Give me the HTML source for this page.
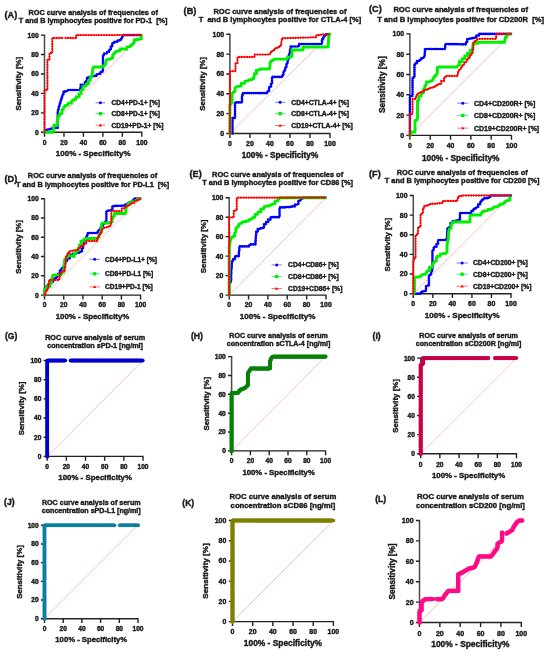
<!DOCTYPE html>
<html><head><meta charset="utf-8"><style>
html,body{margin:0;padding:0;background:#fff;width:550px;height:656px;overflow:hidden}
svg{display:block;filter:blur(0.3px)}
.b{font-family:"Liberation Sans",sans-serif;font-weight:bold;fill:#1a1a1a;stroke:#1a1a1a;stroke-width:0.4px}
</style></head><body><svg width="550" height="656" viewBox="0 0 550 656"><g><text x="4.5" y="18" font-size="9.2" class="b">(A)</text><text x="93.15" y="14.7" font-size="7.3" class="b" text-anchor="middle" xml:space="preserve">ROC curve analysis of frequencies of</text><text x="93.15" y="22.9" font-size="7.3" class="b" text-anchor="middle" xml:space="preserve">T and B lymphocytes positive for PD-1  [%]</text><line x1="44.5" y1="132.3" x2="141.8" y2="35.1" stroke="#f6adb9" stroke-width="0.8"/><path d="M44.5 34.5V132.3" stroke="#4a4a4a" stroke-width="1.5" fill="none"/><path d="M43.8 132.3H142.4M40.9 132.3H44.5M44.5 132.3V136.7M40.9 112.86H44.5M63.96 132.3V136.7M40.9 93.42H44.5M83.42 132.3V136.7M40.9 73.98H44.5M102.88 132.3V136.7M40.9 54.54H44.5M122.34 132.3V136.7M40.9 35.1H44.5M141.8 132.3V136.7" stroke="#222" stroke-width="1.4" fill="none"/><text x="38.7" y="134.7" font-size="6.7" class="b" text-anchor="end">0</text><text x="44.5" y="144.6" font-size="6.7" class="b" text-anchor="middle">0</text><text x="38.7" y="115.26" font-size="6.7" class="b" text-anchor="end">20</text><text x="63.96" y="144.6" font-size="6.7" class="b" text-anchor="middle">20</text><text x="38.7" y="95.82" font-size="6.7" class="b" text-anchor="end">40</text><text x="83.42" y="144.6" font-size="6.7" class="b" text-anchor="middle">40</text><text x="38.7" y="76.38" font-size="6.7" class="b" text-anchor="end">60</text><text x="102.88" y="144.6" font-size="6.7" class="b" text-anchor="middle">60</text><text x="38.7" y="56.94" font-size="6.7" class="b" text-anchor="end">80</text><text x="122.34" y="144.6" font-size="6.7" class="b" text-anchor="middle">80</text><text x="38.7" y="37.5" font-size="6.7" class="b" text-anchor="end">100</text><text x="141.8" y="144.6" font-size="6.7" class="b" text-anchor="middle">100</text><text x="93.15" y="156.1" font-size="8.0" class="b" text-anchor="middle">100% - Specificity%</text><text transform="translate(21.4 83.7) rotate(-90)" font-size="7.85" class="b" text-anchor="middle">Sensitivity [%]</text><polyline points="44.5,132.3 46.49,132.3 46.49,129.48 48.49,129.48 50.07,129.48 50.07,128.66 53.23,128.66 53.23,127.83 54.81,127.83 57.73,127.83 57.73,111.89 58.05,111.89 58.05,109.46 58.68,109.46 58.68,107.03 59,107.03 59.5,107.03 59.5,103.69 60.51,103.69 60.51,100.35 61.51,100.35 61.51,97.02 62.01,97.02 62.5,97.02 62.5,94.49 63.47,94.49 63.47,91.96 63.96,91.96 65.22,91.96 65.22,90.99 67.75,90.99 67.75,90.02 69.02,90.02 80.01,90.02 80.26,90.02 80.26,87.49 80.74,87.49 80.74,84.96 80.99,84.96 84,84.96 85,84.96 85,81.46 87,81.46 87,77.97 87.99,77.97 88.48,77.97 88.48,76.9 88.97,76.9 90.47,76.9 90.47,76.41 93.49,76.41 93.49,75.92 95,75.92 96.75,75.92 96.75,73.98 100.25,73.98 100.25,72.04 102,72.04 102.49,72.04 102.49,69.99 102.98,69.99 102.98,55.03 104.24,55.03 104.24,53.52 106.77,53.52 106.77,52.01 108.04,52.01 109.01,52.01 109.01,49.97 109.98,49.97 110.74,49.97 110.74,46.47 112.25,46.47 112.25,42.97 113,42.97 114.33,42.97 114.33,41.81 116.99,41.81 116.99,40.64 119.65,40.64 119.65,39.47 120.98,39.47 121.46,39.47 121.46,38.02 121.95,38.02 122.49,38.02 122.49,35.1 123.02,35.1 141.8,35.1" fill="none" stroke="#0000ff" stroke-width="1.2" stroke-linejoin="round"/><polyline points="44.5,132.3 46.49,132.3 46.49,129.48 48.49,129.48 50.07,129.48 50.07,128.66 53.23,128.66 53.23,127.83 54.81,127.83 57.73,127.83 57.73,111.89 58.05,111.89 58.05,109.46 58.68,109.46 58.68,107.03 59,107.03 59.5,107.03 59.5,103.69 60.51,103.69 60.51,100.35 61.51,100.35 61.51,97.02 62.01,97.02 62.5,97.02 62.5,94.49 63.47,94.49 63.47,91.96 63.96,91.96 65.22,91.96 65.22,90.99 67.75,90.99 67.75,90.02 69.02,90.02 80.01,90.02 80.26,90.02 80.26,87.49 80.74,87.49 80.74,84.96 80.99,84.96 84,84.96 85,84.96 85,81.46 87,81.46 87,77.97 87.99,77.97 88.48,77.97 88.48,76.9 88.97,76.9 90.47,76.9 90.47,76.41 93.49,76.41 93.49,75.92 95,75.92 96.75,75.92 96.75,73.98 100.25,73.98 100.25,72.04 102,72.04 102.49,72.04 102.49,69.99 102.98,69.99 102.98,55.03 104.24,55.03 104.24,53.52 106.77,53.52 106.77,52.01 108.04,52.01 109.01,52.01 109.01,49.97 109.98,49.97 110.74,49.97 110.74,46.47 112.25,46.47 112.25,42.97 113,42.97 114.33,42.97 114.33,41.81 116.99,41.81 116.99,40.64 119.65,40.64 119.65,39.47 120.98,39.47 121.46,39.47 121.46,38.02 121.95,38.02 122.49,38.02 122.49,35.1 123.02,35.1 141.8,35.1" fill="none" stroke="#0000ff" stroke-width="2.7" stroke-linecap="round" stroke-dasharray="0 2.2"/><polyline points="44.5,132.3 53.65,132.3 53.65,125.3 57.64,125.3 57.64,115.97 59.34,115.97 59.34,114.03 61.04,114.03 61.77,114.03 61.77,110.53 63.23,110.53 63.23,107.03 63.96,107.03 65.47,107.03 65.47,105.04 68.48,105.04 68.48,103.04 69.99,103.04 71.23,103.04 71.23,101 73.71,101 73.71,98.96 74.95,98.96 75.98,98.96 75.98,97.02 77,97.02 78.99,97.02 78.99,94 80.99,94 80.99,90.02 82.98,90.02 82.98,86.03 84.98,86.03 86.48,86.03 86.48,83.99 87.99,83.99 88.48,83.99 88.48,80.01 88.97,80.01 90.47,80.01 90.47,76.99 91.98,76.99 92.14,76.99 92.14,73.66 92.47,73.66 92.47,70.32 92.79,70.32 92.79,66.98 92.96,66.98 102.98,66.98 104,66.98 104,65.04 105.02,65.04 105.29,65.04 105.29,62.51 105.82,62.51 105.82,59.98 106.09,59.98 107.72,59.98 107.72,59.21 110.98,59.21 110.98,58.43 112.61,58.43 112.61,55.03 113.1,55.03 113.1,53.57 113.58,53.57 114.82,53.57 114.82,52.05 117.28,52.05 117.28,50.52 119.75,50.52 119.75,49 120.98,49 124.97,49 126.57,49 126.57,46.96 128.18,46.96 129.64,46.96 129.64,45.4 132.56,45.4 132.56,43.85 134.02,43.85 134.02,39.96 135.72,39.96 135.72,39.47 139.12,39.47 139.12,38.99 140.83,38.99 141.31,38.99 141.31,35.1 141.8,35.1" fill="none" stroke="#00ee00" stroke-width="1.2" stroke-linejoin="round"/><polyline points="44.5,132.3 53.65,132.3 53.65,125.3 57.64,125.3 57.64,115.97 59.34,115.97 59.34,114.03 61.04,114.03 61.77,114.03 61.77,110.53 63.23,110.53 63.23,107.03 63.96,107.03 65.47,107.03 65.47,105.04 68.48,105.04 68.48,103.04 69.99,103.04 71.23,103.04 71.23,101 73.71,101 73.71,98.96 74.95,98.96 75.98,98.96 75.98,97.02 77,97.02 78.99,97.02 78.99,94 80.99,94 80.99,90.02 82.98,90.02 82.98,86.03 84.98,86.03 86.48,86.03 86.48,83.99 87.99,83.99 88.48,83.99 88.48,80.01 88.97,80.01 90.47,80.01 90.47,76.99 91.98,76.99 92.14,76.99 92.14,73.66 92.47,73.66 92.47,70.32 92.79,70.32 92.79,66.98 92.96,66.98 102.98,66.98 104,66.98 104,65.04 105.02,65.04 105.29,65.04 105.29,62.51 105.82,62.51 105.82,59.98 106.09,59.98 107.72,59.98 107.72,59.21 110.98,59.21 110.98,58.43 112.61,58.43 112.61,55.03 113.1,55.03 113.1,53.57 113.58,53.57 114.82,53.57 114.82,52.05 117.28,52.05 117.28,50.52 119.75,50.52 119.75,49 120.98,49 124.97,49 126.57,49 126.57,46.96 128.18,46.96 129.64,46.96 129.64,45.4 132.56,45.4 132.56,43.85 134.02,43.85 134.02,39.96 135.72,39.96 135.72,39.47 139.12,39.47 139.12,38.99 140.83,38.99 141.31,38.99 141.31,35.1 141.8,35.1" fill="none" stroke="#00ee00" stroke-width="2.9" stroke-linecap="square" stroke-dasharray="0 2.8"/><polyline points="44.5,132.3 44.5,90.02 47.42,90.02 47.42,59.98 49.46,59.98 49.46,52.98 52.28,52.98 52.28,38.02 63.47,38.02" fill="none" stroke="#ff0000" stroke-width="0.9" stroke-linejoin="round"/><polyline points="44.5,132.3 44.5,90.02 47.42,90.02 47.42,59.98 49.46,59.98 49.46,52.98 52.28,52.98 52.28,38.02 63.47,38.02" fill="none" stroke="#ff0000" stroke-width="2.3" stroke-linecap="round" stroke-dasharray="0 2.6"/><polyline points="65.52,38.02 76.22,38.02 76.22,35.1 141.8,35.1" fill="none" stroke="#ff0000" stroke-width="0.9" stroke-linejoin="round"/><polyline points="65.52,38.02 76.22,38.02 76.22,35.1 141.8,35.1" fill="none" stroke="#ff0000" stroke-width="2.3" stroke-linecap="round" stroke-dasharray="0 2.6"/><line x1="95.5" y1="102.8" x2="105.3" y2="102.8" stroke="#6a6aff" stroke-width="0.9"/><circle cx="100.4" cy="102.8" r="1.5" fill="#0000ff"/><text x="111.5" y="105.25" font-size="6.65" class="b">CD4+PD-1+ [%]</text><line x1="95.5" y1="113.6" x2="105.3" y2="113.6" stroke="#40e0a0" stroke-width="0.9"/><rect x="98.7" y="111.9" width="3.4" height="3.4" fill="#00ee00"/><text x="111.5" y="116.05" font-size="6.65" class="b">CD8+PD-1+ [%]</text><line x1="95.5" y1="125.2" x2="105.3" y2="125.2" stroke="#ff6060" stroke-width="0.9"/><path d="M100.4 123.6L102 126.4L98.8 126.4Z" fill="#ff0000"/><text x="111.5" y="127.65" font-size="6.65" class="b">CD19+PD-1+ [%]</text></g><g><text x="183.6" y="14" font-size="9.2" class="b">(B)</text><text x="279.95" y="13.6" font-size="7.5" class="b" text-anchor="middle" xml:space="preserve">ROC curve analysis of frequencies of</text><text x="279.95" y="21.8" font-size="7.5" class="b" text-anchor="middle" xml:space="preserve">T  and B lymphocytes positive for CTLA-4 [%]</text><line x1="229.9" y1="133.5" x2="330" y2="34.3" stroke="#f6adb9" stroke-width="0.8"/><path d="M229.9 33.7V133.5" stroke="#4a4a4a" stroke-width="1.5" fill="none"/><path d="M229.2 133.5H330.6M226.3 133.5H229.9M229.9 133.5V137.9M226.3 113.66H229.9M249.92 133.5V137.9M226.3 93.82H229.9M269.94 133.5V137.9M226.3 73.98H229.9M289.96 133.5V137.9M226.3 54.14H229.9M309.98 133.5V137.9M226.3 34.3H229.9M330 133.5V137.9" stroke="#222" stroke-width="1.4" fill="none"/><text x="224.1" y="135.9" font-size="6.9" class="b" text-anchor="end">0</text><text x="229.9" y="146.1" font-size="6.9" class="b" text-anchor="middle">0</text><text x="224.1" y="116.06" font-size="6.9" class="b" text-anchor="end">20</text><text x="249.92" y="146.1" font-size="6.9" class="b" text-anchor="middle">20</text><text x="224.1" y="96.22" font-size="6.9" class="b" text-anchor="end">40</text><text x="269.94" y="146.1" font-size="6.9" class="b" text-anchor="middle">40</text><text x="224.1" y="76.38" font-size="6.9" class="b" text-anchor="end">60</text><text x="289.96" y="146.1" font-size="6.9" class="b" text-anchor="middle">60</text><text x="224.1" y="56.54" font-size="6.9" class="b" text-anchor="end">80</text><text x="309.98" y="146.1" font-size="6.9" class="b" text-anchor="middle">80</text><text x="224.1" y="36.7" font-size="6.9" class="b" text-anchor="end">100</text><text x="330" y="146.1" font-size="6.9" class="b" text-anchor="middle">100</text><text x="279.95" y="158.2" font-size="8.2" class="b" text-anchor="middle">100% - Specificity%</text><text transform="translate(205.3 83.9) rotate(-90)" font-size="7.85" class="b" text-anchor="middle">Sensitivity [%]</text><polyline points="232.5,133.5 232.5,118.02 235.01,118.02 235.01,102.45 242.01,102.45 242.01,95.01 243.01,95.01 243.01,93.03 244.01,93.03 267.04,93.03 267.54,93.03 267.54,91.04 268.04,91.04 269.04,91.04 269.04,86.98 270.04,86.98 271.04,86.98 271.04,84 272.04,84 272.04,76.96 281.95,76.96 282.45,76.96 282.45,74.48 283.45,74.48 283.45,72 283.95,72 284.45,72 284.45,69.52 285.46,69.52 285.46,67.04 285.96,67.04 286.46,67.04 286.46,64.06 287.46,64.06 287.46,61.08 287.96,61.08 288.26,61.08 288.26,58.17 288.86,58.17 288.86,55.25 289.46,55.25 289.46,52.33 290.06,52.33 290.06,49.42 290.66,49.42 290.66,46.5 290.96,46.5 298.97,46.5 298.97,44.02 321.99,44.02 321.99,38.96 323.49,38.96 323.49,35.99 325,35.99 325.5,35.99 325.5,34.3 326,34.3 330,34.3" fill="none" stroke="#0000ff" stroke-width="1.2" stroke-linejoin="round"/><polyline points="232.5,133.5 232.5,118.02 235.01,118.02 235.01,102.45 242.01,102.45 242.01,95.01 243.01,95.01 243.01,93.03 244.01,93.03 267.04,93.03 267.54,93.03 267.54,91.04 268.04,91.04 269.04,91.04 269.04,86.98 270.04,86.98 271.04,86.98 271.04,84 272.04,84 272.04,76.96 281.95,76.96 282.45,76.96 282.45,74.48 283.45,74.48 283.45,72 283.95,72 284.45,72 284.45,69.52 285.46,69.52 285.46,67.04 285.96,67.04 286.46,67.04 286.46,64.06 287.46,64.06 287.46,61.08 287.96,61.08 288.26,61.08 288.26,58.17 288.86,58.17 288.86,55.25 289.46,55.25 289.46,52.33 290.06,52.33 290.06,49.42 290.66,49.42 290.66,46.5 290.96,46.5 298.97,46.5 298.97,44.02 321.99,44.02 321.99,38.96 323.49,38.96 323.49,35.99 325,35.99 325.5,35.99 325.5,34.3 326,34.3 330,34.3" fill="none" stroke="#0000ff" stroke-width="2.7" stroke-linecap="round" stroke-dasharray="0 2.2"/><polyline points="229.9,133.5 229.9,103.74 232,103.74 232,93.03 233.5,93.03 233.5,92.03 235.01,92.03 235.01,86.98 237.01,86.98 237.01,86.38 239.01,86.38 241.01,86.38 241.01,83.4 243.01,83.4 245.02,83.4 245.02,80.92 247.02,80.92 248.49,80.92 248.49,79.93 251.45,79.93 251.45,78.94 252.92,78.94 253.42,78.94 253.42,76.46 254.42,76.46 254.42,73.98 254.93,73.98 256.43,73.98 256.43,70.01 257.93,70.01 258.93,70.01 258.93,69.02 259.93,69.02 269.94,69.02 269.94,62.08 271.19,62.08 271.19,60.59 273.69,60.59 273.69,59.1 274.94,59.1 286.96,59.1 286.96,57.12 291.96,57.12 291.96,49.97 302.97,49.97 302.97,47 328,47 328.12,47 328.12,44.32 328.37,44.32 328.37,41.64 328.62,41.64 328.62,38.96 328.87,38.96 328.87,36.28 329,36.28 329.5,36.28 329.5,34.3 330,34.3" fill="none" stroke="#00ee00" stroke-width="1.2" stroke-linejoin="round"/><polyline points="229.9,133.5 229.9,103.74 232,103.74 232,93.03 233.5,93.03 233.5,92.03 235.01,92.03 235.01,86.98 237.01,86.98 237.01,86.38 239.01,86.38 241.01,86.38 241.01,83.4 243.01,83.4 245.02,83.4 245.02,80.92 247.02,80.92 248.49,80.92 248.49,79.93 251.45,79.93 251.45,78.94 252.92,78.94 253.42,78.94 253.42,76.46 254.42,76.46 254.42,73.98 254.93,73.98 256.43,73.98 256.43,70.01 257.93,70.01 258.93,70.01 258.93,69.02 259.93,69.02 269.94,69.02 269.94,62.08 271.19,62.08 271.19,60.59 273.69,60.59 273.69,59.1 274.94,59.1 286.96,59.1 286.96,57.12 291.96,57.12 291.96,49.97 302.97,49.97 302.97,47 328,47 328.12,47 328.12,44.32 328.37,44.32 328.37,41.64 328.62,41.64 328.62,38.96 328.87,38.96 328.87,36.28 329,36.28 329.5,36.28 329.5,34.3 330,34.3" fill="none" stroke="#00ee00" stroke-width="2.9" stroke-linecap="square" stroke-dasharray="0 2.8"/><polyline points="229.9,133.5 229.9,71.2 235.51,71.2 235.51,63.07 237.51,63.07 237.51,57.02 254.52,57.02 254.52,54.54 269.94,54.54 269.94,53.05 270.94,53.05 270.94,51.16 271.94,51.16 272.94,51.16 272.94,50.17 273.94,50.17 274.94,50.17 274.94,48.19 275.95,48.19 276.95,48.19 276.95,47.2 277.95,47.2 279.45,47.2 279.45,46.01 280.95,46.01 281.12,46.01 281.12,43.43 281.45,43.43 281.45,40.85 281.79,40.85 281.79,38.27 281.95,38.27 283.5,38.27 283.5,38.18 286.59,38.18 286.59,38.09 289.69,38.09 289.69,38 292.78,38 292.78,37.91 295.88,37.91 295.88,37.82 298.97,37.82 298.97,37.73 302.06,37.73 302.06,37.64 305.16,37.64 305.16,37.55 308.25,37.55 308.25,37.46 311.35,37.46 311.35,37.37 314.44,37.37 314.44,37.28 315.99,37.28 316.49,37.28 316.49,35.29 316.99,35.29 318.74,35.29 318.74,34.8 322.24,34.8 322.24,34.3 323.99,34.3 330,34.3" fill="none" stroke="#ff0000" stroke-width="0.9" stroke-linejoin="round"/><polyline points="229.9,133.5 229.9,71.2 235.51,71.2 235.51,63.07 237.51,63.07 237.51,57.02 254.52,57.02 254.52,54.54 269.94,54.54 269.94,53.05 270.94,53.05 270.94,51.16 271.94,51.16 272.94,51.16 272.94,50.17 273.94,50.17 274.94,50.17 274.94,48.19 275.95,48.19 276.95,48.19 276.95,47.2 277.95,47.2 279.45,47.2 279.45,46.01 280.95,46.01 281.12,46.01 281.12,43.43 281.45,43.43 281.45,40.85 281.79,40.85 281.79,38.27 281.95,38.27 283.5,38.27 283.5,38.18 286.59,38.18 286.59,38.09 289.69,38.09 289.69,38 292.78,38 292.78,37.91 295.88,37.91 295.88,37.82 298.97,37.82 298.97,37.73 302.06,37.73 302.06,37.64 305.16,37.64 305.16,37.55 308.25,37.55 308.25,37.46 311.35,37.46 311.35,37.37 314.44,37.37 314.44,37.28 315.99,37.28 316.49,37.28 316.49,35.29 316.99,35.29 318.74,35.29 318.74,34.8 322.24,34.8 322.24,34.3 323.99,34.3 330,34.3" fill="none" stroke="#ff0000" stroke-width="2.3" stroke-linecap="round" stroke-dasharray="0 2.6"/><line x1="275" y1="102.3" x2="285.3" y2="102.3" stroke="#6a6aff" stroke-width="0.9"/><circle cx="280.15" cy="102.3" r="1.5" fill="#0000ff"/><text x="291.3" y="104.75" font-size="6.75" class="b">CD4+CTLA-4+ [%]</text><line x1="275" y1="113.6" x2="285.3" y2="113.6" stroke="#40e0a0" stroke-width="0.9"/><rect x="278.45" y="111.9" width="3.4" height="3.4" fill="#00ee00"/><text x="291.3" y="116.05" font-size="6.75" class="b">CD8+CTLA-4+ [%]</text><line x1="275" y1="125.5" x2="285.3" y2="125.5" stroke="#ff6060" stroke-width="0.9"/><path d="M280.15 123.9L281.75 126.7L278.55 126.7Z" fill="#ff0000"/><text x="291.3" y="127.95" font-size="6.75" class="b">CD19+CTLA-4+ [%]</text></g><g><text x="369" y="11.6" font-size="9.2" class="b">(C)</text><text x="460.7" y="12.4" font-size="7.6" class="b" text-anchor="middle" xml:space="preserve">ROC curve analysis of frequencies of</text><text x="460.7" y="21.5" font-size="7.6" class="b" text-anchor="middle" xml:space="preserve">T and B lymphocytes positive for CD200R  [%]</text><line x1="409.9" y1="135.4" x2="511.5" y2="33.9" stroke="#f6adb9" stroke-width="0.8"/><path d="M409.9 33.3V135.4" stroke="#4a4a4a" stroke-width="1.5" fill="none"/><path d="M409.2 135.4H512.1M406.3 135.4H409.9M409.9 135.4V139.8M406.3 115.1H409.9M430.22 135.4V139.8M406.3 94.8H409.9M450.54 135.4V139.8M406.3 74.5H409.9M470.86 135.4V139.8M406.3 54.2H409.9M491.18 135.4V139.8M406.3 33.9H409.9M511.5 135.4V139.8" stroke="#222" stroke-width="1.4" fill="none"/><text x="404.1" y="137.8" font-size="6.9" class="b" text-anchor="end">0</text><text x="409.9" y="148.3" font-size="6.9" class="b" text-anchor="middle">0</text><text x="404.1" y="117.5" font-size="6.9" class="b" text-anchor="end">20</text><text x="430.22" y="148.3" font-size="6.9" class="b" text-anchor="middle">20</text><text x="404.1" y="97.2" font-size="6.9" class="b" text-anchor="end">40</text><text x="450.54" y="148.3" font-size="6.9" class="b" text-anchor="middle">40</text><text x="404.1" y="76.9" font-size="6.9" class="b" text-anchor="end">60</text><text x="470.86" y="148.3" font-size="6.9" class="b" text-anchor="middle">60</text><text x="404.1" y="56.6" font-size="6.9" class="b" text-anchor="end">80</text><text x="491.18" y="148.3" font-size="6.9" class="b" text-anchor="middle">80</text><text x="404.1" y="36.3" font-size="6.9" class="b" text-anchor="end">100</text><text x="511.5" y="148.3" font-size="6.9" class="b" text-anchor="middle">100</text><text x="460.7" y="160.7" font-size="8.3" class="b" text-anchor="middle">100% - Specificity%</text><text transform="translate(385.2 84.65) rotate(-90)" font-size="8.3" class="b" text-anchor="middle">Sensitivity [%]</text><polyline points="409.9,135.4 409.9,96.02 412.54,96.02 412.54,77.95 413.51,77.95 413.51,77.04 414.47,77.04 414.47,64.96 415.23,64.96 415.23,63.03 416,63.03 417.01,63.03 417.01,61 418.03,61 419.04,61 419.04,59.99 420.06,59.99 421.08,59.99 421.08,58.06 422.09,58.06 423.31,58.06 423.31,57.04 424.53,57.04 424.62,57.04 424.62,54.37 424.78,54.37 424.78,51.7 424.95,51.7 424.95,49.02 425.04,49.02 445.16,49.02 445.16,44.05 446.61,44.05 446.61,44.09 449.53,44.09 449.53,44.14 452.45,44.14 452.45,44.18 455.37,44.18 455.37,44.22 458.28,44.22 458.28,44.27 461.2,44.27 461.2,44.31 464.12,44.31 464.12,44.35 465.58,44.35 466.14,44.35 466.14,41.61 467.25,41.61 467.25,38.87 467.81,38.87 469.1,38.87 469.1,38.5 471.67,38.5 471.67,38.13 474.25,38.13 474.25,37.76 475.53,37.76 476.04,37.76 476.04,35.63 476.55,35.63 478.73,35.63 478.73,33.9 480.92,33.9 511.5,33.9" fill="none" stroke="#0000ff" stroke-width="1.2" stroke-linejoin="round"/><polyline points="409.9,135.4 409.9,96.02 412.54,96.02 412.54,77.95 413.51,77.95 413.51,77.04 414.47,77.04 414.47,64.96 415.23,64.96 415.23,63.03 416,63.03 417.01,63.03 417.01,61 418.03,61 419.04,61 419.04,59.99 420.06,59.99 421.08,59.99 421.08,58.06 422.09,58.06 423.31,58.06 423.31,57.04 424.53,57.04 424.62,57.04 424.62,54.37 424.78,54.37 424.78,51.7 424.95,51.7 424.95,49.02 425.04,49.02 445.16,49.02 445.16,44.05 446.61,44.05 446.61,44.09 449.53,44.09 449.53,44.14 452.45,44.14 452.45,44.18 455.37,44.18 455.37,44.22 458.28,44.22 458.28,44.27 461.2,44.27 461.2,44.31 464.12,44.31 464.12,44.35 465.58,44.35 466.14,44.35 466.14,41.61 467.25,41.61 467.25,38.87 467.81,38.87 469.1,38.87 469.1,38.5 471.67,38.5 471.67,38.13 474.25,38.13 474.25,37.76 475.53,37.76 476.04,37.76 476.04,35.63 476.55,35.63 478.73,35.63 478.73,33.9 480.92,33.9 511.5,33.9" fill="none" stroke="#0000ff" stroke-width="2.7" stroke-linecap="round" stroke-dasharray="0 2.2"/><polyline points="409.9,135.4 410.92,135.4 410.97,135.4 410.97,132.05 411.02,132.05 414.98,132.05 414.98,119.97 417.52,119.97 417.52,99.98 418.79,99.98 418.79,96.02 420.06,96.02 421.08,96.02 421.08,93.78 422.09,93.78 423.11,93.78 423.11,90.03 424.12,90.03 424.63,90.03 424.63,86.07 425.14,86.07 426.16,86.07 426.16,82.01 427.17,82.01 429.2,82.01 429.2,81 431.24,81 432.76,81 432.76,77.95 434.28,77.95 434.79,77.95 434.79,75.01 435.3,75.01 436.32,75.01 436.32,72.98 437.33,72.98 437.33,66.99 457.96,66.99 457.96,65.06 459.35,65.06 459.35,61.76 462.15,61.76 462.15,58.46 463.54,58.46 464.89,58.46 464.89,55.77 467.58,55.77 467.58,53.08 468.93,53.08 470.56,53.08 470.56,49.84 472.18,49.84 472.46,49.84 472.46,47.09 473.02,47.09 473.02,44.35 473.3,44.35 474.64,44.35 474.64,43.29 477.34,43.29 477.34,42.22 478.68,42.22 503.78,42.22 504.9,42.22 504.9,37.76 506.01,37.76 506.57,37.76 506.57,34.51 507.13,34.51 508.76,34.51 508.76,33.9 510.38,33.9 511.5,33.9" fill="none" stroke="#00ee00" stroke-width="1.2" stroke-linejoin="round"/><polyline points="409.9,135.4 410.92,135.4 410.97,135.4 410.97,132.05 411.02,132.05 414.98,132.05 414.98,119.97 417.52,119.97 417.52,99.98 418.79,99.98 418.79,96.02 420.06,96.02 421.08,96.02 421.08,93.78 422.09,93.78 423.11,93.78 423.11,90.03 424.12,90.03 424.63,90.03 424.63,86.07 425.14,86.07 426.16,86.07 426.16,82.01 427.17,82.01 429.2,82.01 429.2,81 431.24,81 432.76,81 432.76,77.95 434.28,77.95 434.79,77.95 434.79,75.01 435.3,75.01 436.32,75.01 436.32,72.98 437.33,72.98 437.33,66.99 457.96,66.99 457.96,65.06 459.35,65.06 459.35,61.76 462.15,61.76 462.15,58.46 463.54,58.46 464.89,58.46 464.89,55.77 467.58,55.77 467.58,53.08 468.93,53.08 470.56,53.08 470.56,49.84 472.18,49.84 472.46,49.84 472.46,47.09 473.02,47.09 473.02,44.35 473.3,44.35 474.64,44.35 474.64,43.29 477.34,43.29 477.34,42.22 478.68,42.22 503.78,42.22 504.9,42.22 504.9,37.76 506.01,37.76 506.57,37.76 506.57,34.51 507.13,34.51 508.76,34.51 508.76,33.9 510.38,33.9 511.5,33.9" fill="none" stroke="#00ee00" stroke-width="2.9" stroke-linecap="square" stroke-dasharray="0 2.8"/><polyline points="409.9,135.4 409.9,114.09 412.54,114.09 412.54,98.96 415.49,98.96 415.87,98.96 415.87,96.47 416.63,96.47 416.63,93.99 417.01,93.99 418.54,93.99 418.54,92.97 420.06,92.97 421.08,92.97 421.08,91.96 422.09,91.96 423.62,91.96 423.62,90.03 425.14,90.03 426.66,90.03 426.66,89.01 428.19,89.01 429.71,89.01 429.71,88 431.24,88 432.25,88 432.25,86.98 433.27,86.98 434.28,86.98 434.28,85.97 435.3,85.97 437.33,85.97 437.33,84.14 439.36,84.14 441.24,84.14 441.24,81 443.12,81 444.14,81 444.14,77.04 445.16,77.04 445.66,77.04 445.66,76.02 446.17,76.02 457.25,76.02 457.75,76.02 457.75,71.96 458.26,71.96 459.02,71.96 459.02,69.63 460.55,69.63 460.55,67.29 461.31,67.29 462.38,67.29 462.38,64.55 464.51,64.55 464.51,61.81 465.58,61.81 466.95,61.81 466.95,58.56 469.69,58.56 469.69,55.32 471.06,55.32 471.62,55.32 471.62,52.58 472.74,52.58 472.74,49.84 473.3,49.84 473.3,42.22 474.64,42.22 474.64,40.55 477.34,40.55 477.34,38.87 478.68,38.87 496.16,38.87 496.16,33.9 511.5,33.9" fill="none" stroke="#ff0000" stroke-width="0.9" stroke-linejoin="round"/><polyline points="409.9,135.4 409.9,114.09 412.54,114.09 412.54,98.96 415.49,98.96 415.87,98.96 415.87,96.47 416.63,96.47 416.63,93.99 417.01,93.99 418.54,93.99 418.54,92.97 420.06,92.97 421.08,92.97 421.08,91.96 422.09,91.96 423.62,91.96 423.62,90.03 425.14,90.03 426.66,90.03 426.66,89.01 428.19,89.01 429.71,89.01 429.71,88 431.24,88 432.25,88 432.25,86.98 433.27,86.98 434.28,86.98 434.28,85.97 435.3,85.97 437.33,85.97 437.33,84.14 439.36,84.14 441.24,84.14 441.24,81 443.12,81 444.14,81 444.14,77.04 445.16,77.04 445.66,77.04 445.66,76.02 446.17,76.02 457.25,76.02 457.75,76.02 457.75,71.96 458.26,71.96 459.02,71.96 459.02,69.63 460.55,69.63 460.55,67.29 461.31,67.29 462.38,67.29 462.38,64.55 464.51,64.55 464.51,61.81 465.58,61.81 466.95,61.81 466.95,58.56 469.69,58.56 469.69,55.32 471.06,55.32 471.62,55.32 471.62,52.58 472.74,52.58 472.74,49.84 473.3,49.84 473.3,42.22 474.64,42.22 474.64,40.55 477.34,40.55 477.34,38.87 478.68,38.87 496.16,38.87 496.16,33.9 511.5,33.9" fill="none" stroke="#ff0000" stroke-width="2.3" stroke-linecap="round" stroke-dasharray="0 2.6"/><line x1="457.3" y1="103.2" x2="468.2" y2="103.2" stroke="#6a6aff" stroke-width="0.9"/><circle cx="462.75" cy="103.2" r="1.5" fill="#0000ff"/><text x="474" y="105.65" font-size="6.95" class="b">CD4+CD200R+ [%]</text><line x1="457.3" y1="115.4" x2="468.2" y2="115.4" stroke="#40e0a0" stroke-width="0.9"/><rect x="461.05" y="113.7" width="3.4" height="3.4" fill="#00ee00"/><text x="474" y="117.85" font-size="6.95" class="b">CD8+CD200R+ [%]</text><line x1="457.3" y1="128.1" x2="468.2" y2="128.1" stroke="#ff6060" stroke-width="0.9"/><path d="M462.75 126.5L464.35 129.3L461.15 129.3Z" fill="#ff0000"/><text x="474" y="130.55" font-size="6.95" class="b">CD19+CD200R+ [%]</text></g><g><text x="4.5" y="182" font-size="9.2" class="b">(D)</text><text x="92.55" y="178.1" font-size="7.3" class="b" text-anchor="middle" xml:space="preserve">ROC curve analysis of frequencies of</text><text x="92.55" y="186.8" font-size="7.3" class="b" text-anchor="middle" xml:space="preserve">T and B lymphocytes positive for PD-L1  [%]</text><line x1="44.5" y1="295.1" x2="140.6" y2="198.7" stroke="#f6adb9" stroke-width="0.8"/><path d="M44.5 198.1V295.1" stroke="#4a4a4a" stroke-width="1.5" fill="none"/><path d="M43.8 295.1H141.2M40.9 295.1H44.5M44.5 295.1V299.5M40.9 275.82H44.5M63.72 295.1V299.5M40.9 256.54H44.5M82.94 295.1V299.5M40.9 237.26H44.5M102.16 295.1V299.5M40.9 217.98H44.5M121.38 295.1V299.5M40.9 198.7H44.5M140.6 295.1V299.5" stroke="#222" stroke-width="1.4" fill="none"/><text x="38.7" y="297.5" font-size="6.7" class="b" text-anchor="end">0</text><text x="44.5" y="307.4" font-size="6.7" class="b" text-anchor="middle">0</text><text x="38.7" y="278.22" font-size="6.7" class="b" text-anchor="end">20</text><text x="63.72" y="307.4" font-size="6.7" class="b" text-anchor="middle">20</text><text x="38.7" y="258.94" font-size="6.7" class="b" text-anchor="end">40</text><text x="82.94" y="307.4" font-size="6.7" class="b" text-anchor="middle">40</text><text x="38.7" y="239.66" font-size="6.7" class="b" text-anchor="end">60</text><text x="102.16" y="307.4" font-size="6.7" class="b" text-anchor="middle">60</text><text x="38.7" y="220.38" font-size="6.7" class="b" text-anchor="end">80</text><text x="121.38" y="307.4" font-size="6.7" class="b" text-anchor="middle">80</text><text x="38.7" y="201.1" font-size="6.7" class="b" text-anchor="end">100</text><text x="140.6" y="307.4" font-size="6.7" class="b" text-anchor="middle">100</text><text x="92.55" y="319.3" font-size="7.9" class="b" text-anchor="middle">100% - Specificity%</text><text transform="translate(21.4 246.9) rotate(-90)" font-size="7.85" class="b" text-anchor="middle">Sensitivity [%]</text><polyline points="44.5,295.1 44.5,291.24 45.22,291.24 45.22,288.35 46.66,288.35 46.66,285.46 47.38,285.46 48.82,285.46 48.82,283.53 50.27,283.53 51.23,283.53 51.23,281.6 52.19,281.6 53.63,281.6 53.63,278.71 55.07,278.71 56.03,278.71 56.03,276.78 56.99,276.78 57.95,276.78 57.95,273.89 58.91,273.89 59.88,273.89 59.88,270.04 60.84,270.04 61.8,270.04 61.8,268.11 62.76,268.11 63.72,268.11 63.72,264.25 64.68,264.25 65.16,264.25 65.16,261.36 65.64,261.36 67.08,261.36 67.08,258.47 68.53,258.47 69.97,258.47 69.97,254.61 71.41,254.61 72.85,254.61 72.85,253.65 74.29,253.65 76.21,253.65 76.21,252.68 78.13,252.68 79.58,252.68 79.58,251.72 81.02,251.72 81.98,251.72 81.98,247.86 82.94,247.86 83.18,247.86 83.18,244.97 83.66,244.97 83.66,242.08 83.9,242.08 84.62,242.08 84.62,239.19 86.06,239.19 86.06,236.3 86.78,236.3 87.5,236.3 87.5,233.02 88.23,233.02 96.3,233.02 97.79,233.02 97.79,230.51 99.28,230.51 100,230.51 100,228.1 101.44,228.1 101.44,225.69 102.16,225.69 103.22,225.69 103.22,223.33 105.33,223.33 105.33,220.97 106.39,220.97 106.39,211.04 107.64,211.04 107.64,210.51 110.14,210.51 110.14,209.98 111.39,209.98 112.39,209.98 112.39,206.03 113.4,206.03 114.79,206.03 114.79,205.91 117.55,205.91 117.55,205.79 120.31,205.79 120.31,205.66 123.07,205.66 123.07,205.54 124.46,205.54 125.32,205.54 125.32,204.48 126.18,204.48 127.42,204.48 127.42,203.2 129.88,203.2 129.88,201.91 132.35,201.91 132.35,200.63 133.58,200.63 133.73,200.63 133.73,198.7 133.87,198.7 140.6,198.7" fill="none" stroke="#0000ff" stroke-width="1.2" stroke-linejoin="round"/><polyline points="44.5,295.1 44.5,291.24 45.22,291.24 45.22,288.35 46.66,288.35 46.66,285.46 47.38,285.46 48.82,285.46 48.82,283.53 50.27,283.53 51.23,283.53 51.23,281.6 52.19,281.6 53.63,281.6 53.63,278.71 55.07,278.71 56.03,278.71 56.03,276.78 56.99,276.78 57.95,276.78 57.95,273.89 58.91,273.89 59.88,273.89 59.88,270.04 60.84,270.04 61.8,270.04 61.8,268.11 62.76,268.11 63.72,268.11 63.72,264.25 64.68,264.25 65.16,264.25 65.16,261.36 65.64,261.36 67.08,261.36 67.08,258.47 68.53,258.47 69.97,258.47 69.97,254.61 71.41,254.61 72.85,254.61 72.85,253.65 74.29,253.65 76.21,253.65 76.21,252.68 78.13,252.68 79.58,252.68 79.58,251.72 81.02,251.72 81.98,251.72 81.98,247.86 82.94,247.86 83.18,247.86 83.18,244.97 83.66,244.97 83.66,242.08 83.9,242.08 84.62,242.08 84.62,239.19 86.06,239.19 86.06,236.3 86.78,236.3 87.5,236.3 87.5,233.02 88.23,233.02 96.3,233.02 97.79,233.02 97.79,230.51 99.28,230.51 100,230.51 100,228.1 101.44,228.1 101.44,225.69 102.16,225.69 103.22,225.69 103.22,223.33 105.33,223.33 105.33,220.97 106.39,220.97 106.39,211.04 107.64,211.04 107.64,210.51 110.14,210.51 110.14,209.98 111.39,209.98 112.39,209.98 112.39,206.03 113.4,206.03 114.79,206.03 114.79,205.91 117.55,205.91 117.55,205.79 120.31,205.79 120.31,205.66 123.07,205.66 123.07,205.54 124.46,205.54 125.32,205.54 125.32,204.48 126.18,204.48 127.42,204.48 127.42,203.2 129.88,203.2 129.88,201.91 132.35,201.91 132.35,200.63 133.58,200.63 133.73,200.63 133.73,198.7 133.87,198.7 140.6,198.7" fill="none" stroke="#0000ff" stroke-width="2.7" stroke-linecap="round" stroke-dasharray="0 2.2"/><polyline points="44.5,295.1 44.5,289.32 46.42,289.32 46.42,286.42 48.34,286.42 49.79,286.42 49.79,282.57 51.23,282.57 51.55,282.57 51.55,280 52.19,280 52.19,277.43 52.83,277.43 52.83,274.86 53.15,274.86 59.88,274.86 61.8,274.86 61.8,271.96 63.72,271.96 63.84,271.96 63.84,268.83 64.08,268.83 64.08,265.7 64.32,265.7 64.32,262.56 64.56,262.56 64.56,259.43 64.68,259.43 66.12,259.43 66.12,256.54 67.56,256.54 69.01,256.54 69.01,255.58 70.45,255.58 71.89,255.58 71.89,256.54 73.33,256.54 74.29,256.54 74.29,252.68 75.25,252.68 76.69,252.68 76.69,250.76 78.13,250.76 78.62,250.76 78.62,247.86 79.58,247.86 79.58,244.97 80.06,244.97 81.02,244.97 81.02,241.12 81.98,241.12 83.42,241.12 83.42,239.19 84.86,239.19 86.54,239.19 86.54,238.51 88.23,238.51 94.28,238.51 96.3,238.51 96.3,238.22 98.32,238.22 98.8,238.22 98.8,235.33 99.28,235.33 99.76,235.33 99.76,233.16 100.72,233.16 100.72,230.99 101.2,230.99 101.2,225.02 102.16,225.02 102.16,222.99 103.12,222.99 108.41,222.99 109.9,222.99 109.9,221.84 111.39,221.84 112.06,221.84 112.06,217.98 112.73,217.98 113.21,217.98 113.21,215.76 114.17,215.76 114.17,213.55 114.65,213.55 125.51,213.55 125.68,213.55 125.68,210.27 126.02,210.27 126.02,206.99 126.18,206.99 127.15,206.99 127.15,204.48 128.11,204.48 129.31,204.48 129.31,201.98 130.51,201.98 131.83,201.98 131.83,201.3 134.47,201.3 134.47,200.63 135.8,200.63 137,200.63 137,199.66 139.4,199.66 139.4,198.7 140.6,198.7" fill="none" stroke="#00ee00" stroke-width="1.2" stroke-linejoin="round"/><polyline points="44.5,295.1 44.5,289.32 46.42,289.32 46.42,286.42 48.34,286.42 49.79,286.42 49.79,282.57 51.23,282.57 51.55,282.57 51.55,280 52.19,280 52.19,277.43 52.83,277.43 52.83,274.86 53.15,274.86 59.88,274.86 61.8,274.86 61.8,271.96 63.72,271.96 63.84,271.96 63.84,268.83 64.08,268.83 64.08,265.7 64.32,265.7 64.32,262.56 64.56,262.56 64.56,259.43 64.68,259.43 66.12,259.43 66.12,256.54 67.56,256.54 69.01,256.54 69.01,255.58 70.45,255.58 71.89,255.58 71.89,256.54 73.33,256.54 74.29,256.54 74.29,252.68 75.25,252.68 76.69,252.68 76.69,250.76 78.13,250.76 78.62,250.76 78.62,247.86 79.58,247.86 79.58,244.97 80.06,244.97 81.02,244.97 81.02,241.12 81.98,241.12 83.42,241.12 83.42,239.19 84.86,239.19 86.54,239.19 86.54,238.51 88.23,238.51 94.28,238.51 96.3,238.51 96.3,238.22 98.32,238.22 98.8,238.22 98.8,235.33 99.28,235.33 99.76,235.33 99.76,233.16 100.72,233.16 100.72,230.99 101.2,230.99 101.2,225.02 102.16,225.02 102.16,222.99 103.12,222.99 108.41,222.99 109.9,222.99 109.9,221.84 111.39,221.84 112.06,221.84 112.06,217.98 112.73,217.98 113.21,217.98 113.21,215.76 114.17,215.76 114.17,213.55 114.65,213.55 125.51,213.55 125.68,213.55 125.68,210.27 126.02,210.27 126.02,206.99 126.18,206.99 127.15,206.99 127.15,204.48 128.11,204.48 129.31,204.48 129.31,201.98 130.51,201.98 131.83,201.98 131.83,201.3 134.47,201.3 134.47,200.63 135.8,200.63 137,200.63 137,199.66 139.4,199.66 139.4,198.7 140.6,198.7" fill="none" stroke="#00ee00" stroke-width="2.9" stroke-linecap="square" stroke-dasharray="0 2.8"/><polyline points="44.5,295.1 45.46,295.1 45.46,291.24 46.42,291.24 47.07,291.24 47.07,288.35 48.37,288.35 48.37,285.46 49.02,285.46 49.02,279.97 59.11,279.97 59.35,279.97 59.35,276.49 59.83,276.49 59.83,273.02 60.07,273.02 62.09,273.02 62.09,271 64.1,271 64.63,271 64.63,268.01 65.16,268.01 65.28,268.01 65.28,265 65.52,265 65.52,261.99 65.76,261.99 65.76,258.97 66,258.97 66,255.96 66.12,255.96 67.13,255.96 67.13,253.5 69.15,253.5 69.15,251.05 70.16,251.05 71.5,251.05 71.5,250.69 74.19,250.69 74.19,250.34 76.89,250.34 76.89,249.98 78.23,249.98 78.23,248.06 80.25,248.06 80.25,246.03 82.27,246.03 83.28,246.03 83.28,244.01 84.29,244.01 86.26,244.01 86.26,241.02 88.23,241.02 96.3,241.02 97.31,241.02 97.31,237.26 98.32,237.26 98.92,237.26 98.92,234.85 100.12,234.85 100.12,232.44 100.72,232.44 101.92,232.44 101.92,228.58 103.12,228.58 104.32,228.58 104.32,227.62 106.72,227.62 106.72,226.66 107.93,226.66 109.13,226.66 109.13,225.69 110.33,225.69 110.86,225.69 110.86,222.8 111.39,222.8 111.39,211.04 120.42,211.04 121.86,211.04 121.86,208.34 123.3,208.34 124.5,208.34 124.5,206.89 126.91,206.89 126.91,205.45 128.11,205.45 129.21,205.45 129.21,204.24 131.42,204.24 131.42,203.04 132.53,203.04 134.16,203.04 134.16,200.63 135.8,200.63 137,200.63 137,199.66 139.4,199.66 139.4,198.7 140.6,198.7" fill="none" stroke="#ff0000" stroke-width="0.9" stroke-linejoin="round"/><polyline points="44.5,295.1 45.46,295.1 45.46,291.24 46.42,291.24 47.07,291.24 47.07,288.35 48.37,288.35 48.37,285.46 49.02,285.46 49.02,279.97 59.11,279.97 59.35,279.97 59.35,276.49 59.83,276.49 59.83,273.02 60.07,273.02 62.09,273.02 62.09,271 64.1,271 64.63,271 64.63,268.01 65.16,268.01 65.28,268.01 65.28,265 65.52,265 65.52,261.99 65.76,261.99 65.76,258.97 66,258.97 66,255.96 66.12,255.96 67.13,255.96 67.13,253.5 69.15,253.5 69.15,251.05 70.16,251.05 71.5,251.05 71.5,250.69 74.19,250.69 74.19,250.34 76.89,250.34 76.89,249.98 78.23,249.98 78.23,248.06 80.25,248.06 80.25,246.03 82.27,246.03 83.28,246.03 83.28,244.01 84.29,244.01 86.26,244.01 86.26,241.02 88.23,241.02 96.3,241.02 97.31,241.02 97.31,237.26 98.32,237.26 98.92,237.26 98.92,234.85 100.12,234.85 100.12,232.44 100.72,232.44 101.92,232.44 101.92,228.58 103.12,228.58 104.32,228.58 104.32,227.62 106.72,227.62 106.72,226.66 107.93,226.66 109.13,226.66 109.13,225.69 110.33,225.69 110.86,225.69 110.86,222.8 111.39,222.8 111.39,211.04 120.42,211.04 121.86,211.04 121.86,208.34 123.3,208.34 124.5,208.34 124.5,206.89 126.91,206.89 126.91,205.45 128.11,205.45 129.21,205.45 129.21,204.24 131.42,204.24 131.42,203.04 132.53,203.04 134.16,203.04 134.16,200.63 135.8,200.63 137,200.63 137,199.66 139.4,199.66 139.4,198.7 140.6,198.7" fill="none" stroke="#ff0000" stroke-width="2.3" stroke-linecap="round" stroke-dasharray="0 2.6"/><line x1="89.4" y1="259.3" x2="100" y2="259.3" stroke="#6a6aff" stroke-width="0.9"/><circle cx="94.7" cy="259.3" r="1.5" fill="#0000ff"/><text x="105" y="261.75" font-size="6.6" class="b">CD4+PD-L1+ [%]</text><line x1="89.4" y1="273.8" x2="100" y2="273.8" stroke="#40e0a0" stroke-width="0.9"/><rect x="93" y="272.1" width="3.4" height="3.4" fill="#00ee00"/><text x="105" y="276.25" font-size="6.6" class="b">CD8+PD-L1 [%]</text><line x1="89.4" y1="286.9" x2="100" y2="286.9" stroke="#ff6060" stroke-width="0.9"/><path d="M94.7 285.3L96.3 288.1L93.1 288.1Z" fill="#ff0000"/><text x="105" y="289.35" font-size="6.6" class="b">CD19+PD-1 [%]</text></g><g><text x="189.5" y="176.9" font-size="9.2" class="b">(E)</text><text x="277.6" y="176.8" font-size="7.4" class="b" text-anchor="middle" xml:space="preserve">ROC curve analysis of frequencies of</text><text x="277.6" y="185.4" font-size="7.4" class="b" text-anchor="middle" xml:space="preserve">T and B lymphocytes positive for CD86 [%]</text><line x1="229.2" y1="295.1" x2="326" y2="197.7" stroke="#f6adb9" stroke-width="0.8"/><path d="M229.2 197.1V295.1" stroke="#4a4a4a" stroke-width="1.5" fill="none"/><path d="M228.5 295.1H326.6M225.6 295.1H229.2M229.2 295.1V299.5M225.6 275.62H229.2M248.56 295.1V299.5M225.6 256.14H229.2M267.92 295.1V299.5M225.6 236.66H229.2M287.28 295.1V299.5M225.6 217.18H229.2M306.64 295.1V299.5M225.6 197.7H229.2M326 295.1V299.5" stroke="#222" stroke-width="1.4" fill="none"/><text x="223.4" y="297.5" font-size="6.85" class="b" text-anchor="end">0</text><text x="229.2" y="307.4" font-size="6.85" class="b" text-anchor="middle">0</text><text x="223.4" y="278.02" font-size="6.85" class="b" text-anchor="end">20</text><text x="248.56" y="307.4" font-size="6.85" class="b" text-anchor="middle">20</text><text x="223.4" y="258.54" font-size="6.85" class="b" text-anchor="end">40</text><text x="267.92" y="307.4" font-size="6.85" class="b" text-anchor="middle">40</text><text x="223.4" y="239.06" font-size="6.85" class="b" text-anchor="end">60</text><text x="287.28" y="307.4" font-size="6.85" class="b" text-anchor="middle">60</text><text x="223.4" y="219.58" font-size="6.85" class="b" text-anchor="end">80</text><text x="306.64" y="307.4" font-size="6.85" class="b" text-anchor="middle">80</text><text x="223.4" y="200.1" font-size="6.85" class="b" text-anchor="end">100</text><text x="326" y="307.4" font-size="6.85" class="b" text-anchor="middle">100</text><text x="277.6" y="319.1" font-size="8.1" class="b" text-anchor="middle">100% - Specificity%</text><text transform="translate(206.1 246.4) rotate(-90)" font-size="7.85" class="b" text-anchor="middle">Sensitivity [%]</text><polyline points="229.2,295.1 229.2,283.41 230.17,283.41 230.17,281.46 231.14,281.46 231.14,273.67 231.26,273.67 231.26,270.51 231.5,270.51 231.5,267.34 231.74,267.34 231.74,264.18 231.98,264.18 231.98,261.01 232.1,261.01 233.07,261.01 233.07,259.06 234.04,259.06 235.01,259.06 235.01,256.14 235.98,256.14 238.88,256.14 238.88,250.3 239.36,250.3 239.36,246.4 239.85,246.4 248.56,246.4 249.53,246.4 249.53,244.45 250.5,244.45 255.34,244.45 255.46,244.45 255.46,241.29 255.7,241.29 255.7,238.12 255.94,238.12 255.94,234.96 256.18,234.96 256.18,231.79 256.3,231.79 257.76,231.79 257.76,228.87 259.21,228.87 261.14,228.87 261.14,227.89 263.08,227.89 264.05,227.89 264.05,224 265.02,224 265.98,224 265.98,222.05 266.95,222.05 268.16,222.05 268.16,219.62 270.58,219.62 270.58,217.18 271.79,217.18 279.54,217.18 279.54,207.44 284.38,207.44 285.83,207.44 285.83,207.12 288.73,207.12 288.73,206.79 291.64,206.79 291.64,206.47 293.09,206.47 295.02,206.47 295.02,204.52 296.96,204.52 298.41,204.52 298.41,200.62 299.86,200.62 300.83,200.62 300.83,198.67 301.8,198.67 302.28,198.67 302.28,197.7 302.77,197.7 326,197.7" fill="none" stroke="#0000ff" stroke-width="1.2" stroke-linejoin="round"/><polyline points="229.2,295.1 229.2,283.41 230.17,283.41 230.17,281.46 231.14,281.46 231.14,273.67 231.26,273.67 231.26,270.51 231.5,270.51 231.5,267.34 231.74,267.34 231.74,264.18 231.98,264.18 231.98,261.01 232.1,261.01 233.07,261.01 233.07,259.06 234.04,259.06 235.01,259.06 235.01,256.14 235.98,256.14 238.88,256.14 238.88,250.3 239.36,250.3 239.36,246.4 239.85,246.4 248.56,246.4 249.53,246.4 249.53,244.45 250.5,244.45 255.34,244.45 255.46,244.45 255.46,241.29 255.7,241.29 255.7,238.12 255.94,238.12 255.94,234.96 256.18,234.96 256.18,231.79 256.3,231.79 257.76,231.79 257.76,228.87 259.21,228.87 261.14,228.87 261.14,227.89 263.08,227.89 264.05,227.89 264.05,224 265.02,224 265.98,224 265.98,222.05 266.95,222.05 268.16,222.05 268.16,219.62 270.58,219.62 270.58,217.18 271.79,217.18 279.54,217.18 279.54,207.44 284.38,207.44 285.83,207.44 285.83,207.12 288.73,207.12 288.73,206.79 291.64,206.79 291.64,206.47 293.09,206.47 295.02,206.47 295.02,204.52 296.96,204.52 298.41,204.52 298.41,200.62 299.86,200.62 300.83,200.62 300.83,198.67 301.8,198.67 302.28,198.67 302.28,197.7 302.77,197.7 326,197.7" fill="none" stroke="#0000ff" stroke-width="2.7" stroke-linecap="round" stroke-dasharray="0 2.2"/><polyline points="229.2,295.1 229.2,246.98 229.44,246.98 229.44,244.5 229.93,244.5 229.93,242.02 230.17,242.02 230.43,242.02 230.43,239.53 230.97,239.53 230.97,237.05 231.23,237.05 232.73,237.05 232.73,235.98 234.23,235.98 234.74,235.98 234.74,232.47 235.76,232.47 235.76,228.97 236.27,228.97 237.02,228.97 237.02,226.48 238.52,226.48 238.52,224 239.27,224 241.25,224 241.25,222.05 243.24,222.05 245.27,222.05 245.27,220.98 247.3,220.98 249.29,220.98 249.29,219.03 251.27,219.03 252.77,219.03 252.77,216.99 254.27,216.99 255.29,216.99 255.29,213.97 256.3,213.97 257.8,213.97 257.8,212.12 259.3,212.12 260.81,212.12 260.81,209.1 262.31,209.1 263.32,209.1 263.32,207.05 264.34,207.05 265.84,207.05 265.84,206.08 268.84,206.08 268.84,205.1 270.34,205.1 271.84,205.1 271.84,204.13 273.34,204.13 274.84,204.13 274.84,201.11 276.34,201.11 277.6,201.11 277.6,199.45 278.86,199.45 278.86,197.7 326,197.7" fill="none" stroke="#00ee00" stroke-width="1.2" stroke-linejoin="round"/><polyline points="229.2,295.1 229.2,246.98 229.44,246.98 229.44,244.5 229.93,244.5 229.93,242.02 230.17,242.02 230.43,242.02 230.43,239.53 230.97,239.53 230.97,237.05 231.23,237.05 232.73,237.05 232.73,235.98 234.23,235.98 234.74,235.98 234.74,232.47 235.76,232.47 235.76,228.97 236.27,228.97 237.02,228.97 237.02,226.48 238.52,226.48 238.52,224 239.27,224 241.25,224 241.25,222.05 243.24,222.05 245.27,222.05 245.27,220.98 247.3,220.98 249.29,220.98 249.29,219.03 251.27,219.03 252.77,219.03 252.77,216.99 254.27,216.99 255.29,216.99 255.29,213.97 256.3,213.97 257.8,213.97 257.8,212.12 259.3,212.12 260.81,212.12 260.81,209.1 262.31,209.1 263.32,209.1 263.32,207.05 264.34,207.05 265.84,207.05 265.84,206.08 268.84,206.08 268.84,205.1 270.34,205.1 271.84,205.1 271.84,204.13 273.34,204.13 274.84,204.13 274.84,201.11 276.34,201.11 277.6,201.11 277.6,199.45 278.86,199.45 278.86,197.7 326,197.7" fill="none" stroke="#00ee00" stroke-width="2.9" stroke-linecap="square" stroke-dasharray="0 2.8"/><polyline points="229.2,295.1 229.2,217.47 233.75,217.47 233.75,210.46 236.75,210.46 236.75,197.7 326,197.7" fill="none" stroke="#ff0000" stroke-width="0.9" stroke-linejoin="round"/><polyline points="229.2,295.1 229.2,217.47 233.75,217.47 233.75,210.46 236.75,210.46 236.75,197.7 326,197.7" fill="none" stroke="#ff0000" stroke-width="2.3" stroke-linecap="round" stroke-dasharray="0 2.6"/><line x1="271.6" y1="264.9" x2="281.8" y2="264.9" stroke="#6a6aff" stroke-width="0.9"/><circle cx="276.7" cy="264.9" r="1.5" fill="#0000ff"/><text x="288.1" y="267.35" font-size="6.7" class="b">CD4+CD86+ [%]</text><line x1="271.6" y1="276.5" x2="281.8" y2="276.5" stroke="#40e0a0" stroke-width="0.9"/><rect x="275" y="274.8" width="3.4" height="3.4" fill="#00ee00"/><text x="288.1" y="278.95" font-size="6.7" class="b">CD8+CD86+ [%]</text><line x1="271.6" y1="288.5" x2="281.8" y2="288.5" stroke="#ff6060" stroke-width="0.9"/><path d="M276.7 286.9L278.3 289.7L275.1 289.7Z" fill="#ff0000"/><text x="288.1" y="290.95" font-size="6.7" class="b">CD19+CD86+ [%]</text></g><g><text x="369" y="177.4" font-size="9.2" class="b">(F)</text><text x="462.15" y="175" font-size="7.4" class="b" text-anchor="middle" xml:space="preserve">ROC curve analysis of frequencies of</text><text x="462.15" y="183.2" font-size="7.4" class="b" text-anchor="middle" xml:space="preserve">T and B lymphocytes positive for CD200 [%]</text><line x1="413.3" y1="293.7" x2="511" y2="195.5" stroke="#f6adb9" stroke-width="0.8"/><path d="M413.3 194.9V293.7" stroke="#4a4a4a" stroke-width="1.5" fill="none"/><path d="M412.6 293.7H511.6M409.7 293.7H413.3M413.3 293.7V298.1M409.7 274.06H413.3M432.84 293.7V298.1M409.7 254.42H413.3M452.38 293.7V298.1M409.7 234.78H413.3M471.92 293.7V298.1M409.7 215.14H413.3M491.46 293.7V298.1M409.7 195.5H413.3M511 293.7V298.1" stroke="#222" stroke-width="1.4" fill="none"/><text x="407.5" y="296.1" font-size="6.95" class="b" text-anchor="end">0</text><text x="413.3" y="306.1" font-size="6.95" class="b" text-anchor="middle">0</text><text x="407.5" y="276.46" font-size="6.95" class="b" text-anchor="end">20</text><text x="432.84" y="306.1" font-size="6.95" class="b" text-anchor="middle">20</text><text x="407.5" y="256.82" font-size="6.95" class="b" text-anchor="end">40</text><text x="452.38" y="306.1" font-size="6.95" class="b" text-anchor="middle">40</text><text x="407.5" y="237.18" font-size="6.95" class="b" text-anchor="end">60</text><text x="471.92" y="306.1" font-size="6.95" class="b" text-anchor="middle">60</text><text x="407.5" y="217.54" font-size="6.95" class="b" text-anchor="end">80</text><text x="491.46" y="306.1" font-size="6.95" class="b" text-anchor="middle">80</text><text x="407.5" y="197.9" font-size="6.95" class="b" text-anchor="end">100</text><text x="511" y="306.1" font-size="6.95" class="b" text-anchor="middle">100</text><text x="462.15" y="318" font-size="8.0" class="b" text-anchor="middle">100% - Specificity%</text><text transform="translate(390.2 244.6) rotate(-90)" font-size="7.85" class="b" text-anchor="middle">Sensitivity [%]</text><polyline points="413.3,293.7 421.02,293.7 421.02,291.74 422.26,291.74 422.26,291.25 424.76,291.25 424.76,290.75 426,290.75 426,285.75 427.47,285.75 427.47,285.25 428.93,285.25 428.93,275.04 429.91,275.04 429.91,274.06 430.89,274.06 431.28,274.06 431.28,271.51 432.06,271.51 432.06,268.95 432.45,268.95 432.45,250 433.72,250 433.72,246.96 434.99,246.96 436.5,246.96 436.5,244.01 438.02,244.01 438.02,239.98 446.03,239.98 446.52,239.98 446.52,238.02 447.01,238.02 447.09,238.02 447.09,234.68 447.25,234.68 447.25,231.34 447.41,231.34 447.41,228 447.5,228 448.77,228 448.77,227.02 450.04,227.02 450.52,227.02 450.52,223 451.01,223 452.48,223 452.48,221.03 453.94,221.03 455.46,221.03 455.46,220.49 458.49,220.49 458.49,219.95 460,219.95 460,212.98 470.94,212.98 471.48,212.98 471.48,210.72 472.02,210.72 473.14,210.72 473.14,209.1 475.39,209.1 475.39,207.48 476.51,207.48 478.12,207.48 478.12,204.24 479.74,204.24 480.3,204.24 480.3,202.03 481.42,202.03 481.42,199.82 481.98,199.82 483.64,199.82 483.64,198.15 485.3,198.15 487.45,198.15 487.45,197.56 489.6,197.56 490.04,197.56 490.04,195.5 490.48,195.5 511,195.5" fill="none" stroke="#0000ff" stroke-width="1.2" stroke-linejoin="round"/><polyline points="413.3,293.7 421.02,293.7 421.02,291.74 422.26,291.74 422.26,291.25 424.76,291.25 424.76,290.75 426,290.75 426,285.75 427.47,285.75 427.47,285.25 428.93,285.25 428.93,275.04 429.91,275.04 429.91,274.06 430.89,274.06 431.28,274.06 431.28,271.51 432.06,271.51 432.06,268.95 432.45,268.95 432.45,250 433.72,250 433.72,246.96 434.99,246.96 436.5,246.96 436.5,244.01 438.02,244.01 438.02,239.98 446.03,239.98 446.52,239.98 446.52,238.02 447.01,238.02 447.09,238.02 447.09,234.68 447.25,234.68 447.25,231.34 447.41,231.34 447.41,228 447.5,228 448.77,228 448.77,227.02 450.04,227.02 450.52,227.02 450.52,223 451.01,223 452.48,223 452.48,221.03 453.94,221.03 455.46,221.03 455.46,220.49 458.49,220.49 458.49,219.95 460,219.95 460,212.98 470.94,212.98 471.48,212.98 471.48,210.72 472.02,210.72 473.14,210.72 473.14,209.1 475.39,209.1 475.39,207.48 476.51,207.48 478.12,207.48 478.12,204.24 479.74,204.24 480.3,204.24 480.3,202.03 481.42,202.03 481.42,199.82 481.98,199.82 483.64,199.82 483.64,198.15 485.3,198.15 487.45,198.15 487.45,197.56 489.6,197.56 490.04,197.56 490.04,195.5 490.48,195.5 511,195.5" fill="none" stroke="#0000ff" stroke-width="2.7" stroke-linecap="round" stroke-dasharray="0 2.2"/><polyline points="413.3,293.7 414.47,293.7 414.47,277.99 416.11,277.99 416.11,277.01 419.38,277.01 419.38,276.02 421.02,276.02 422.26,276.02 422.26,274.55 424.76,274.55 424.76,273.08 426,273.08 426.98,273.08 426.98,271.11 427.95,271.11 429.42,271.11 429.42,267.19 430.89,267.19 432.35,267.19 432.35,263.26 433.82,263.26 434.62,263.26 434.62,260.66 436.24,260.66 436.24,258.05 437.04,258.05 437.53,258.05 437.53,255.99 438.02,255.99 440.02,255.99 440.02,254.03 442.02,254.03 443.27,254.03 443.27,253.54 445.76,253.54 445.76,253.05 447.01,253.05 447.01,247.55 447.01,244.99 447.25,244.99 447.25,242.49 447.74,242.49 447.74,239.98 447.98,239.98 448.15,239.98 448.15,236.65 448.47,236.65 448.47,233.31 448.8,233.31 448.8,229.97 448.96,229.97 449.5,229.97 449.5,228 450.04,228 451.01,228 451.01,224.96 451.99,224.96 451.99,223 452.97,223 452.97,222.01 453.94,222.01 469.97,222.01 469.97,215.04 479.74,215.04 481.35,215.04 481.35,211.8 482.96,211.8 484.62,211.8 484.62,210.62 487.94,210.62 487.94,209.44 491.26,209.44 491.26,208.27 492.93,208.27 494.37,208.27 494.37,206.92 497.27,206.92 497.27,205.58 500.17,205.58 500.17,204.24 501.62,204.24 502.86,204.24 502.86,202.77 505.33,202.77 505.33,201.29 507.81,201.29 507.81,199.82 509.05,199.82 510.02,199.82 510.02,195.5 511,195.5" fill="none" stroke="#00ee00" stroke-width="1.2" stroke-linejoin="round"/><polyline points="413.3,293.7 414.47,293.7 414.47,277.99 416.11,277.99 416.11,277.01 419.38,277.01 419.38,276.02 421.02,276.02 422.26,276.02 422.26,274.55 424.76,274.55 424.76,273.08 426,273.08 426.98,273.08 426.98,271.11 427.95,271.11 429.42,271.11 429.42,267.19 430.89,267.19 432.35,267.19 432.35,263.26 433.82,263.26 434.62,263.26 434.62,260.66 436.24,260.66 436.24,258.05 437.04,258.05 437.53,258.05 437.53,255.99 438.02,255.99 440.02,255.99 440.02,254.03 442.02,254.03 443.27,254.03 443.27,253.54 445.76,253.54 445.76,253.05 447.01,253.05 447.01,247.55 447.01,244.99 447.25,244.99 447.25,242.49 447.74,242.49 447.74,239.98 447.98,239.98 448.15,239.98 448.15,236.65 448.47,236.65 448.47,233.31 448.8,233.31 448.8,229.97 448.96,229.97 449.5,229.97 449.5,228 450.04,228 451.01,228 451.01,224.96 451.99,224.96 451.99,223 452.97,223 452.97,222.01 453.94,222.01 469.97,222.01 469.97,215.04 479.74,215.04 481.35,215.04 481.35,211.8 482.96,211.8 484.62,211.8 484.62,210.62 487.94,210.62 487.94,209.44 491.26,209.44 491.26,208.27 492.93,208.27 494.37,208.27 494.37,206.92 497.27,206.92 497.27,205.58 500.17,205.58 500.17,204.24 501.62,204.24 502.86,204.24 502.86,202.77 505.33,202.77 505.33,201.29 507.81,201.29 507.81,199.82 509.05,199.82 510.02,199.82 510.02,195.5 511,195.5" fill="none" stroke="#00ee00" stroke-width="2.9" stroke-linecap="square" stroke-dasharray="0 2.8"/><polyline points="413.3,293.7 413.3,260.31 414.42,260.31 414.42,258.35 415.55,258.35 415.55,235.47 416.77,235.47 416.77,233.99 417.99,233.99 417.99,228 419.26,228 419.26,227.02 420.53,227.02 420.53,213.96 421.75,213.96 421.75,212.98 422.97,212.98 422.97,207.97 424.24,207.97 424.24,206.01 425.51,206.01 426.76,206.01 426.76,205.03 429.25,205.03 429.25,204.04 430.5,204.04 432.06,204.04 432.06,203.77 435.18,203.77 435.18,203.5 438.31,203.5 438.31,203.23 441.44,203.23 441.44,202.96 443,202.96 443,201 456.97,201 457.46,201 457.46,197.96 457.95,197.96 458.97,197.96 458.97,195.99 460,195.99 461.22,195.99 461.22,195.5 462.44,195.5 511,195.5" fill="none" stroke="#ff0000" stroke-width="0.9" stroke-linejoin="round"/><polyline points="413.3,293.7 413.3,260.31 414.42,260.31 414.42,258.35 415.55,258.35 415.55,235.47 416.77,235.47 416.77,233.99 417.99,233.99 417.99,228 419.26,228 419.26,227.02 420.53,227.02 420.53,213.96 421.75,213.96 421.75,212.98 422.97,212.98 422.97,207.97 424.24,207.97 424.24,206.01 425.51,206.01 426.76,206.01 426.76,205.03 429.25,205.03 429.25,204.04 430.5,204.04 432.06,204.04 432.06,203.77 435.18,203.77 435.18,203.5 438.31,203.5 438.31,203.23 441.44,203.23 441.44,202.96 443,202.96 443,201 456.97,201 457.46,201 457.46,197.96 457.95,197.96 458.97,197.96 458.97,195.99 460,195.99 461.22,195.99 461.22,195.5 462.44,195.5 511,195.5" fill="none" stroke="#ff0000" stroke-width="2.3" stroke-linecap="round" stroke-dasharray="0 2.6"/><line x1="456.5" y1="263" x2="467.7" y2="263" stroke="#6a6aff" stroke-width="0.9"/><circle cx="462.1" cy="263" r="1.5" fill="#0000ff"/><text x="473" y="265.45" font-size="6.75" class="b">CD4+CD200+ [%]</text><line x1="456.5" y1="274.2" x2="467.7" y2="274.2" stroke="#40e0a0" stroke-width="0.9"/><rect x="460.4" y="272.5" width="3.4" height="3.4" fill="#00ee00"/><text x="473" y="276.65" font-size="6.75" class="b">CD8+CD200+ [%]</text><line x1="456.5" y1="286.2" x2="467.7" y2="286.2" stroke="#ff6060" stroke-width="0.9"/><path d="M462.1 284.6L463.7 287.4L460.5 287.4Z" fill="#ff0000"/><text x="473" y="288.65" font-size="6.75" class="b">CD19+CD200+ [%]</text></g><g><text x="4.9" y="339" font-size="8.6" class="b">(G)</text><text x="95.1" y="340.1" font-size="7.2" class="b" text-anchor="middle" xml:space="preserve">ROC curve analysis of serum</text><text x="95.1" y="348.3" font-size="7.2" class="b" text-anchor="middle" xml:space="preserve">concentration sPD-1 [ng/ml]</text><line x1="47.2" y1="456.4" x2="143" y2="360.5" stroke="#f6adb9" stroke-width="0.8"/><path d="M47.2 359.9V456.4" stroke="#4a4a4a" stroke-width="1.5" fill="none"/><path d="M46.5 456.4H143.6M43.6 456.4H47.2M47.2 456.4V460.8M43.6 437.22H47.2M66.36 456.4V460.8M43.6 418.04H47.2M85.52 456.4V460.8M43.6 398.86H47.2M104.68 456.4V460.8M43.6 379.68H47.2M123.84 456.4V460.8M43.6 360.5H47.2M143 456.4V460.8" stroke="#222" stroke-width="1.4" fill="none"/><text x="41.4" y="458.8" font-size="6.6" class="b" text-anchor="end">0</text><text x="47.2" y="468.9" font-size="6.6" class="b" text-anchor="middle">0</text><text x="41.4" y="439.62" font-size="6.6" class="b" text-anchor="end">20</text><text x="66.36" y="468.9" font-size="6.6" class="b" text-anchor="middle">20</text><text x="41.4" y="420.44" font-size="6.6" class="b" text-anchor="end">40</text><text x="85.52" y="468.9" font-size="6.6" class="b" text-anchor="middle">40</text><text x="41.4" y="401.26" font-size="6.6" class="b" text-anchor="end">60</text><text x="104.68" y="468.9" font-size="6.6" class="b" text-anchor="middle">60</text><text x="41.4" y="382.08" font-size="6.6" class="b" text-anchor="end">80</text><text x="123.84" y="468.9" font-size="6.6" class="b" text-anchor="middle">80</text><text x="41.4" y="362.9" font-size="6.6" class="b" text-anchor="end">100</text><text x="143" y="468.9" font-size="6.6" class="b" text-anchor="middle">100</text><text x="95.1" y="479.7" font-size="7.9" class="b" text-anchor="middle">100% - Specificity%</text><text transform="translate(24.1 408.45) rotate(-90)" font-size="7.85" class="b" text-anchor="middle">Sensitivity [%]</text><polyline points="47.2,456.4 47.2,360.5 65.59,360.5" fill="none" stroke="#0000cc" stroke-width="3.3" stroke-linejoin="round" stroke-linecap="round"/><polyline points="47.2,456.4 47.2,360.5 65.59,360.5" fill="none" stroke="#0000cc" stroke-width="4.1" stroke-linecap="round" stroke-dasharray="0 1.98"/><polyline points="70.67,360.5 143,360.5" fill="none" stroke="#0000cc" stroke-width="3.3" stroke-linejoin="round" stroke-linecap="round"/><polyline points="70.67,360.5 143,360.5" fill="none" stroke="#0000cc" stroke-width="4.1" stroke-linecap="round" stroke-dasharray="0 1.98"/></g><g><text x="191" y="339" font-size="8.6" class="b">(H)</text><text x="278.6" y="338.1" font-size="7.1" class="b" text-anchor="middle" xml:space="preserve">ROC curve analysis of serum</text><text x="278.6" y="345.5" font-size="7.1" class="b" text-anchor="middle" xml:space="preserve">concentration sCTLA-4 [ng/ml]</text><line x1="231.6" y1="450.9" x2="325.6" y2="356.6" stroke="#f6adb9" stroke-width="0.8"/><path d="M231.6 356V450.9" stroke="#4a4a4a" stroke-width="1.5" fill="none"/><path d="M230.9 450.9H326.2M228 450.9H231.6M231.6 450.9V455.3M228 432.04H231.6M250.4 450.9V455.3M228 413.18H231.6M269.2 450.9V455.3M228 394.32H231.6M288 450.9V455.3M228 375.46H231.6M306.8 450.9V455.3M228 356.6H231.6M325.6 450.9V455.3" stroke="#222" stroke-width="1.4" fill="none"/><text x="225.8" y="453.3" font-size="6.6" class="b" text-anchor="end">0</text><text x="231.6" y="463.3" font-size="6.6" class="b" text-anchor="middle">0</text><text x="225.8" y="434.44" font-size="6.6" class="b" text-anchor="end">20</text><text x="250.4" y="463.3" font-size="6.6" class="b" text-anchor="middle">20</text><text x="225.8" y="415.58" font-size="6.6" class="b" text-anchor="end">40</text><text x="269.2" y="463.3" font-size="6.6" class="b" text-anchor="middle">40</text><text x="225.8" y="396.72" font-size="6.6" class="b" text-anchor="end">60</text><text x="288" y="463.3" font-size="6.6" class="b" text-anchor="middle">60</text><text x="225.8" y="377.86" font-size="6.6" class="b" text-anchor="end">80</text><text x="306.8" y="463.3" font-size="6.6" class="b" text-anchor="middle">80</text><text x="225.8" y="359" font-size="6.6" class="b" text-anchor="end">100</text><text x="325.6" y="463.3" font-size="6.6" class="b" text-anchor="middle">100</text><text x="278.6" y="474.7" font-size="7.75" class="b" text-anchor="middle">100% - Specificity%</text><text transform="translate(208.5 403.75) rotate(-90)" font-size="7.85" class="b" text-anchor="middle">Sensitivity [%]</text><polyline points="231.6,450.9 231.6,393 237.99,393 239.97,389.98 245.04,387.91 247.96,384.98 247.96,373.01 250.96,368.48 270.05,368.48 270.05,361.03 272.02,356.98 272.96,356.6 325.6,356.6" fill="none" stroke="#078007" stroke-width="3.6" stroke-linejoin="round" stroke-linecap="round"/><polyline points="231.6,450.9 231.6,393 237.99,393 239.97,389.98 245.04,387.91 247.96,384.98 247.96,373.01 250.96,368.48 270.05,368.48 270.05,361.03 272.02,356.98 272.96,356.6 325.6,356.6" fill="none" stroke="#078007" stroke-width="4.4" stroke-linecap="round" stroke-dasharray="0 2.16"/></g><g><text x="372.6" y="339" font-size="8.6" class="b">(I)</text><text x="468.6" y="338.1" font-size="7.1" class="b" text-anchor="middle" xml:space="preserve">ROC curve analysis of serum</text><text x="468.6" y="346.3" font-size="7.1" class="b" text-anchor="middle" xml:space="preserve">concentration sCD200R [ng/ml]</text><line x1="420.7" y1="453.8" x2="516.5" y2="358.1" stroke="#f6adb9" stroke-width="0.8"/><path d="M420.7 357.5V453.8" stroke="#4a4a4a" stroke-width="1.5" fill="none"/><path d="M420 453.8H517.1M417.1 453.8H420.7M420.7 453.8V458.2M417.1 434.66H420.7M439.86 453.8V458.2M417.1 415.52H420.7M459.02 453.8V458.2M417.1 396.38H420.7M478.18 453.8V458.2M417.1 377.24H420.7M497.34 453.8V458.2M417.1 358.1H420.7M516.5 453.8V458.2" stroke="#222" stroke-width="1.4" fill="none"/><text x="414.9" y="456.2" font-size="6.6" class="b" text-anchor="end">0</text><text x="420.7" y="466.5" font-size="6.6" class="b" text-anchor="middle">0</text><text x="414.9" y="437.06" font-size="6.6" class="b" text-anchor="end">20</text><text x="439.86" y="466.5" font-size="6.6" class="b" text-anchor="middle">20</text><text x="414.9" y="417.92" font-size="6.6" class="b" text-anchor="end">40</text><text x="459.02" y="466.5" font-size="6.6" class="b" text-anchor="middle">40</text><text x="414.9" y="398.78" font-size="6.6" class="b" text-anchor="end">60</text><text x="478.18" y="466.5" font-size="6.6" class="b" text-anchor="middle">60</text><text x="414.9" y="379.64" font-size="6.6" class="b" text-anchor="end">80</text><text x="497.34" y="466.5" font-size="6.6" class="b" text-anchor="middle">80</text><text x="414.9" y="360.5" font-size="6.6" class="b" text-anchor="end">100</text><text x="516.5" y="466.5" font-size="6.6" class="b" text-anchor="middle">100</text><text x="468.6" y="477.6" font-size="7.85" class="b" text-anchor="middle">100% - Specificity%</text><text transform="translate(397.6 405.95) rotate(-90)" font-size="7.85" class="b" text-anchor="middle">Sensitivity [%]</text><polyline points="420.7,453.8 420.7,364.8 423.09,363.84 423.09,358.1 488.53,358.1" fill="none" stroke="#c8004a" stroke-width="3.6" stroke-linejoin="round" stroke-linecap="round"/><polyline points="420.7,453.8 420.7,364.8 423.09,363.84 423.09,358.1 488.53,358.1" fill="none" stroke="#c8004a" stroke-width="4.4" stroke-linecap="round" stroke-dasharray="0 2.16"/><polyline points="495.23,358.1 516.5,358.1" fill="none" stroke="#c8004a" stroke-width="3.6" stroke-linejoin="round" stroke-linecap="round"/><polyline points="495.23,358.1 516.5,358.1" fill="none" stroke="#c8004a" stroke-width="4.4" stroke-linecap="round" stroke-dasharray="0 2.16"/></g><g><text x="4.1" y="505.4" font-size="8.6" class="b">(J)</text><text x="91.25" y="505" font-size="7.1" class="b" text-anchor="middle" xml:space="preserve">ROC curve analysis of serum</text><text x="91.25" y="513.2" font-size="7.1" class="b" text-anchor="middle" xml:space="preserve">concentration sPD-L1 [ng/ml]</text><line x1="44.5" y1="618.7" x2="138" y2="525.3" stroke="#f6adb9" stroke-width="0.8"/><path d="M44.5 524.7V618.7" stroke="#4a4a4a" stroke-width="1.5" fill="none"/><path d="M43.8 618.7H138.6M40.9 618.7H44.5M44.5 618.7V623.1M40.9 600.02H44.5M63.2 618.7V623.1M40.9 581.34H44.5M81.9 618.7V623.1M40.9 562.66H44.5M100.6 618.7V623.1M40.9 543.98H44.5M119.3 618.7V623.1M40.9 525.3H44.5M138 618.7V623.1" stroke="#222" stroke-width="1.4" fill="none"/><text x="38.7" y="621.1" font-size="6.6" class="b" text-anchor="end">0</text><text x="44.5" y="630.6" font-size="6.6" class="b" text-anchor="middle">0</text><text x="38.7" y="602.42" font-size="6.6" class="b" text-anchor="end">20</text><text x="63.2" y="630.6" font-size="6.6" class="b" text-anchor="middle">20</text><text x="38.7" y="583.74" font-size="6.6" class="b" text-anchor="end">40</text><text x="81.9" y="630.6" font-size="6.6" class="b" text-anchor="middle">40</text><text x="38.7" y="565.06" font-size="6.6" class="b" text-anchor="end">60</text><text x="100.6" y="630.6" font-size="6.6" class="b" text-anchor="middle">60</text><text x="38.7" y="546.38" font-size="6.6" class="b" text-anchor="end">80</text><text x="119.3" y="630.6" font-size="6.6" class="b" text-anchor="middle">80</text><text x="38.7" y="527.7" font-size="6.6" class="b" text-anchor="end">100</text><text x="138" y="630.6" font-size="6.6" class="b" text-anchor="middle">100</text><text x="91.25" y="642" font-size="7.7" class="b" text-anchor="middle">100% - Specificity%</text><text transform="translate(22.4 572) rotate(-90)" font-size="7.85" class="b" text-anchor="middle">Sensitivity [%]</text><polyline points="44.5,618.7 44.5,525.3 114.91,525.3" fill="none" stroke="#0a7f9e" stroke-width="3.3" stroke-linejoin="round" stroke-linecap="round"/><polyline points="44.5,618.7 44.5,525.3 114.91,525.3" fill="none" stroke="#0a7f9e" stroke-width="4.1" stroke-linecap="round" stroke-dasharray="0 1.98"/><polyline points="120.05,525.3 138,525.3" fill="none" stroke="#0a7f9e" stroke-width="3.3" stroke-linejoin="round" stroke-linecap="round"/><polyline points="120.05,525.3 138,525.3" fill="none" stroke="#0a7f9e" stroke-width="4.1" stroke-linecap="round" stroke-dasharray="0 1.98"/></g><g><text x="182.3" y="505.9" font-size="8.6" class="b">(K)</text><text x="282.95" y="498.6" font-size="7.7" class="b" text-anchor="middle" xml:space="preserve">ROC curve analysis of serum</text><text x="282.95" y="507.7" font-size="7.7" class="b" text-anchor="middle" xml:space="preserve">concentration sCD86 [ng/ml]</text><line x1="232.5" y1="621.6" x2="333.4" y2="520.5" stroke="#f6adb9" stroke-width="0.8"/><path d="M232.5 519.9V621.6" stroke="#4a4a4a" stroke-width="1.5" fill="none"/><path d="M231.8 621.6H334M228.9 621.6H232.5M232.5 621.6V626M228.9 601.38H232.5M252.68 621.6V626M228.9 581.16H232.5M272.86 621.6V626M228.9 560.94H232.5M293.04 621.6V626M228.9 540.72H232.5M313.22 621.6V626M228.9 520.5H232.5M333.4 621.6V626" stroke="#222" stroke-width="1.4" fill="none"/><text x="226.3" y="624" font-size="6.95" class="b" text-anchor="end">0</text><text x="232.5" y="633.5" font-size="6.95" class="b" text-anchor="middle">0</text><text x="226.3" y="603.78" font-size="6.95" class="b" text-anchor="end">20</text><text x="252.68" y="633.5" font-size="6.95" class="b" text-anchor="middle">20</text><text x="226.3" y="583.56" font-size="6.95" class="b" text-anchor="end">40</text><text x="272.86" y="633.5" font-size="6.95" class="b" text-anchor="middle">40</text><text x="226.3" y="563.34" font-size="6.95" class="b" text-anchor="end">60</text><text x="293.04" y="633.5" font-size="6.95" class="b" text-anchor="middle">60</text><text x="226.3" y="543.12" font-size="6.95" class="b" text-anchor="end">80</text><text x="313.22" y="633.5" font-size="6.95" class="b" text-anchor="middle">80</text><text x="226.3" y="522.9" font-size="6.95" class="b" text-anchor="end">100</text><text x="333.4" y="633.5" font-size="6.95" class="b" text-anchor="middle">100</text><text x="282.95" y="645.9" font-size="8.4" class="b" text-anchor="middle">100% - Specificity%</text><text transform="translate(207.9 571.05) rotate(-90)" font-size="8.1" class="b" text-anchor="middle">Sensitivity [%]</text><polyline points="232.5,621.6 232.5,520.5 333.4,520.5" fill="none" stroke="#808000" stroke-width="3.7" stroke-linejoin="round" stroke-linecap="round"/><polyline points="232.5,621.6 232.5,520.5 333.4,520.5" fill="none" stroke="#808000" stroke-width="4.5" stroke-linecap="round" stroke-dasharray="0 2.22"/></g><g><text x="375.2" y="502.1" font-size="8.6" class="b">(L)</text><text x="470.4" y="499.3" font-size="7.7" class="b" text-anchor="middle" xml:space="preserve">ROC curve analysis of serum</text><text x="470.4" y="508" font-size="7.7" class="b" text-anchor="middle" xml:space="preserve">concentration sCD200 [ng/ml]</text><line x1="419.5" y1="622.5" x2="521.3" y2="520.5" stroke="#f6adb9" stroke-width="0.8"/><path d="M419.5 519.9V622.5" stroke="#4a4a4a" stroke-width="1.5" fill="none"/><path d="M418.8 622.5H521.9M415.9 622.5H419.5M419.5 622.5V626.9M415.9 602.1H419.5M439.86 622.5V626.9M415.9 581.7H419.5M460.22 622.5V626.9M415.9 561.3H419.5M480.58 622.5V626.9M415.9 540.9H419.5M500.94 622.5V626.9M415.9 520.5H419.5M521.3 622.5V626.9" stroke="#222" stroke-width="1.4" fill="none"/><text x="413.6" y="624.9" font-size="7.05" class="b" text-anchor="end">0</text><text x="419.5" y="635.8" font-size="7.05" class="b" text-anchor="middle">0</text><text x="413.6" y="604.5" font-size="7.05" class="b" text-anchor="end">20</text><text x="439.86" y="635.8" font-size="7.05" class="b" text-anchor="middle">20</text><text x="413.6" y="584.1" font-size="7.05" class="b" text-anchor="end">40</text><text x="460.22" y="635.8" font-size="7.05" class="b" text-anchor="middle">40</text><text x="413.6" y="563.7" font-size="7.05" class="b" text-anchor="end">60</text><text x="480.58" y="635.8" font-size="7.05" class="b" text-anchor="middle">60</text><text x="413.6" y="543.3" font-size="7.05" class="b" text-anchor="end">80</text><text x="500.94" y="635.8" font-size="7.05" class="b" text-anchor="middle">80</text><text x="413.6" y="522.9" font-size="7.05" class="b" text-anchor="end">100</text><text x="521.3" y="635.8" font-size="7.05" class="b" text-anchor="middle">100</text><text x="470.4" y="647" font-size="8.4" class="b" text-anchor="middle">100% - Specificity%</text><text transform="translate(394.8 571.5) rotate(-90)" font-size="8.2" class="b" text-anchor="middle">Sensitivity [%]</text><polyline points="419.5,622.5 419.5,611.28 421.54,610.26 421.54,602.1 422.55,601.08 425.61,599.04 433.34,599.04" fill="none" stroke="#ff0a84" stroke-width="3.9" stroke-linejoin="round" stroke-linecap="round"/><polyline points="419.5,622.5 419.5,611.28 421.54,610.26 421.54,602.1 422.55,601.08 425.61,599.04 433.34,599.04" fill="none" stroke="#ff0a84" stroke-width="4.7" stroke-linecap="round" stroke-dasharray="0 2.34"/><polyline points="437.01,599.04 442.61,599.04 443.93,597 444.95,594.96 446.99,592.92 448,590.88 458.18,590.88 458.18,574.56 462.26,572.52 465.62,570.58 468.97,568.54 474.37,567.42 476.61,563.03 478.85,556.51 490.96,556.51 494.32,552.12 497.58,547.73 497.58,543.45 502.06,541.21 502.06,532.54" fill="none" stroke="#ff0a84" stroke-width="3.9" stroke-linejoin="round" stroke-linecap="round"/><polyline points="437.01,599.04 442.61,599.04 443.93,597 444.95,594.96 446.99,592.92 448,590.88 458.18,590.88 458.18,574.56 462.26,572.52 465.62,570.58 468.97,568.54 474.37,567.42 476.61,563.03 478.85,556.51 490.96,556.51 494.32,552.12 497.58,547.73 497.58,543.45 502.06,541.21 502.06,532.54" fill="none" stroke="#ff0a84" stroke-width="4.7" stroke-linecap="round" stroke-dasharray="0 2.34"/><polyline points="506.54,533.45 512.04,530.29 514.28,525.91 517.53,521.52 519.26,520.5 522.52,520.5" fill="none" stroke="#ff0a84" stroke-width="3.9" stroke-linejoin="round" stroke-linecap="round"/><polyline points="506.54,533.45 512.04,530.29 514.28,525.91 517.53,521.52 519.26,520.5 522.52,520.5" fill="none" stroke="#ff0a84" stroke-width="4.7" stroke-linecap="round" stroke-dasharray="0 2.34"/></g></svg></body></html>
